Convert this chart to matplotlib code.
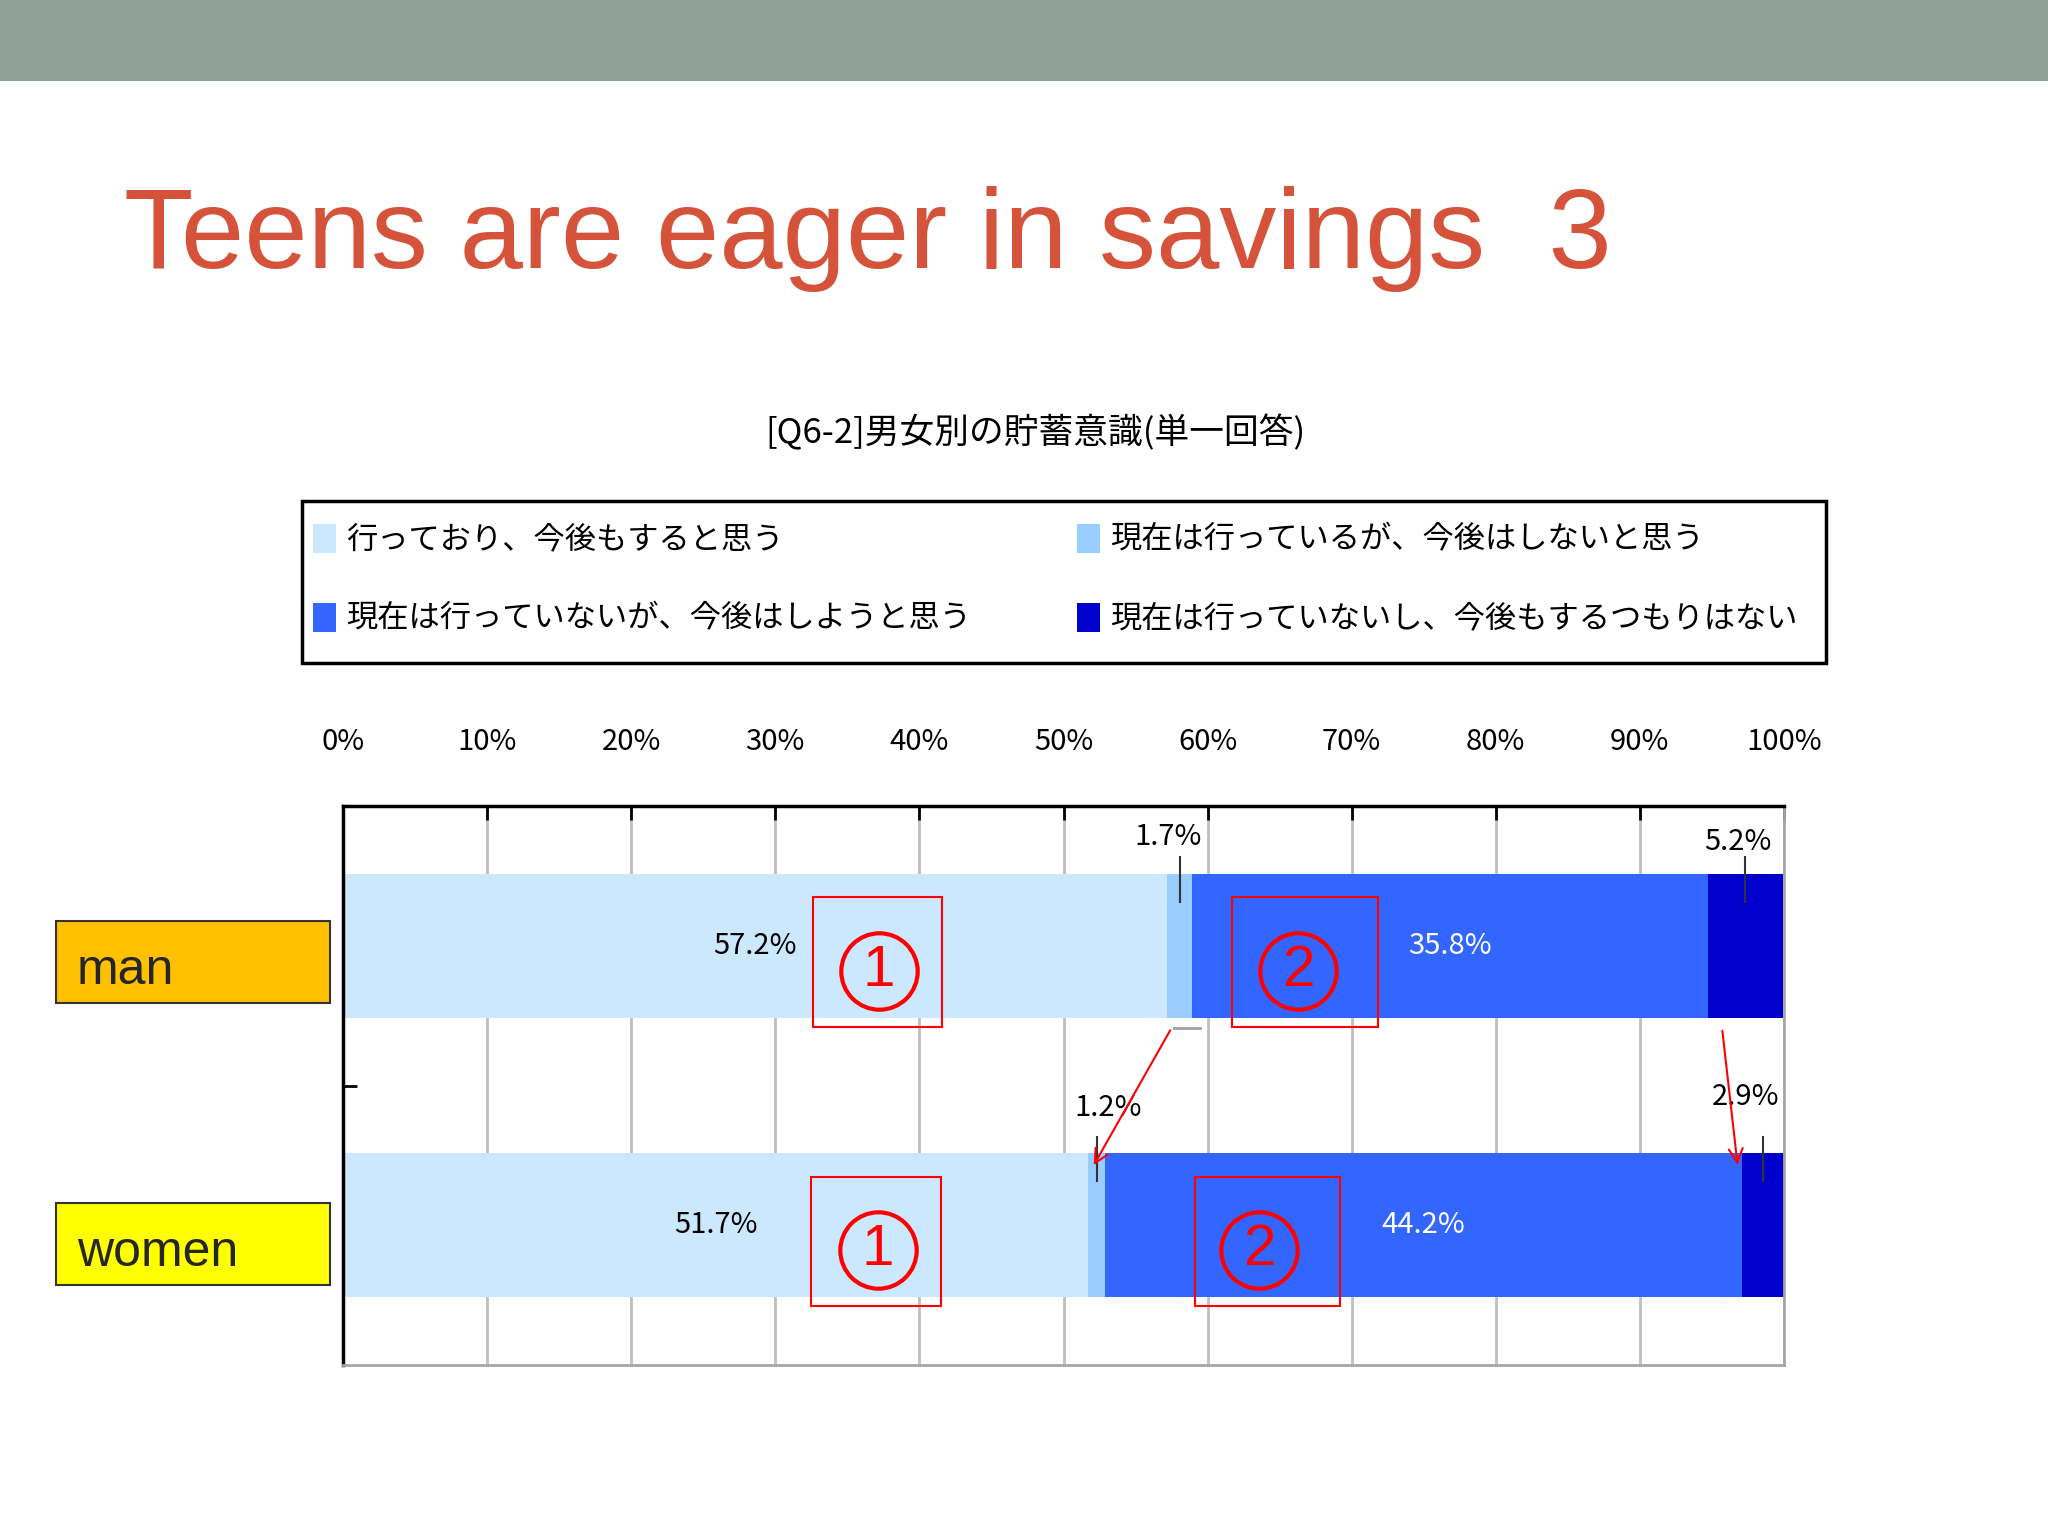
import matplotlib
matplotlib.use("Agg")
import matplotlib.pyplot as plt
from matplotlib.patches import Rectangle
import numpy as np

plt.rcParams['font.family'] = ['Noto Sans CJK JP', 'DejaVu Sans']

# data
groups = ['man', 'women']
series_labels = ['行っており、今後もすると思う',
                 '現在は行っているが、今後はしないと思う',
                 '現在は行っていないが、今後はしようと思う',
                 '現在は行っていないし、今後もするつもりはない']
man_vals = [57.2, 1.7, 35.8, 5.2]
women_vals = [51.7, 1.2, 44.2, 2.9]
colors = ['#CCE8FF', '#99CCFF', '#3366FF', '#0000CC']
xticks = list(range(0, 101, 10))

fig = plt.figure(figsize=(20.48, 15.36), dpi=100)

# slide decoration
fig.patches.append(Rectangle((0, 1 - 81 / 1536), 1, 81 / 1536, transform=fig.transFigure,
                             facecolor='#90A19A', edgecolor='none'))
fig.text(124 / 2048, 1 - 268 / 1536, 'Teens are eager in savings  3', fontsize=82,
         family='Liberation Sans', color='#D4533A', ha='left', va='baseline')

# chart title
fig.text(0.5057, 0.7180, '[Q6-2]男女別の貯蓄意識(単一回答)', fontsize=25,
         ha='center', va='center', color='black')

# legend (manual)
fig.patches.append(Rectangle((302 / 2048, 1 - 663 / 1536), (1826 - 302) / 2048, (663 - 501) / 1536,
                             transform=fig.transFigure, facecolor='white', edgecolor='black', lw=2.5))
leg_pos = [(313, 539), (1077, 539), (313, 618), (1077, 618)]
for (px, py), lab, c in zip(leg_pos, series_labels, colors):
    fig.patches.append(Rectangle((px / 2048, 1 - (py + 14) / 1536), 23 / 2048, 29 / 1536,
                                 transform=fig.transFigure, facecolor=c, edgecolor='none'))
    fig.text((px + 33) / 2048, 1 - py / 1536, lab, fontsize=22.5, ha='left', va='center')

# main axes
ax = fig.add_axes([343 / 2048, 1 - 1365 / 1536, (1784 - 343) / 2048, (1365 - 806) / 1536])
ypos = [1, 0]
bar_h = 0.515
vals = np.array([man_vals, women_vals])
left = np.zeros(len(groups))
for j, c in enumerate(colors):
    ax.barh(ypos, vals[:, j], left=left, height=bar_h, color=c, edgecolor='none', zorder=2)
    left = left + vals[:, j]

ax.set_xlim(0, 100)
ax.set_ylim(-0.5, 1.5)
ax.xaxis.tick_top()
ax.set_xticks(xticks)
ax.set_xticklabels([f'{v}%' for v in xticks], fontsize=21)
ax.tick_params(axis='x', direction='in', length=10, width=2, pad=35, colors='black')
ax.set_yticks([0.5])
ax.set_yticklabels([''])
ax.tick_params(axis='y', direction='in', length=10, width=2)
ax.grid(axis='x', color='#BFBFBF', lw=2, zorder=0)
ax.set_axisbelow(True)
for s in ['top', 'left']:
    ax.spines[s].set_color('black')
    ax.spines[s].set_linewidth(2.5)
for s in ['bottom', 'right']:
    ax.spines[s].set_color('#A6A6A6')
    ax.spines[s].set_linewidth(2)

# value labels
small_label_dy = [[0, 0.39, 0, 0.37], [0, 0.42, 0, 0.46]]
small_label_dx = [[0, -0.8, 0, -0.5], [0, 0.8, 0, -1.2]]
for i, y in enumerate(ypos):
    cum = np.concatenate([[0], np.cumsum(vals[i])])
    for j in range(len(colors)):
        v = vals[i, j]
        xc = (cum[j] + cum[j + 1]) / 2
        if v >= 10:
            ax.text(xc, y, f'{v:.1f}%', ha='center', va='center', fontsize=21,
                    color='white' if j >= 2 else 'black', zorder=4)
        else:
            top = y + bar_h / 2
            ax.plot([xc, xc], [top + 0.06, top - 0.1], color='#333333', lw=1.5, zorder=4)
            ax.text(xc + small_label_dx[i][j], y + small_label_dy[i][j], f'{v:.1f}%',
                    ha='center', va='center', fontsize=21, color='black', zorder=4)

# red annotation boxes and circled numbers
boxes = [(32.6, 41.6, 1), (61.7, 71.8, 1), (32.5, 41.5, 0), (59.1, 69.2, 0)]
circles = [(37.2, 1, '1'), (66.3, 1, '2'), (37.1, 0, '1'), (63.6, 0, '2')]
for x0, x1, y in boxes:
    ax.add_patch(Rectangle((x0, y - 0.29), x1 - x0, 0.463, facecolor='none',
                           edgecolor='red', lw=1.5, zorder=5))
for x, y, t in circles:
    ax.plot([x], [y - 0.09], 'o', ms=55, mfc='none', mec='red', mew=3, zorder=6)
    ax.text(x, y - 0.09, t, ha='center', va='center', fontsize=42,
            family='Liberation Sans', color='red', zorder=6)

# arrows
ax.plot([57.7, 59.5], [0.706, 0.706], color='#A0A0A0', lw=2, zorder=5)
ax.annotate('', xy=(52.0, 0.206), xytext=(57.5, 0.706),
            arrowprops=dict(arrowstyle='->', color='red', lw=1.5, mutation_scale=25), zorder=6)
ax.annotate('', xy=(96.8, 0.206), xytext=(95.7, 0.706),
            arrowprops=dict(arrowstyle='->', color='red', lw=1.5, mutation_scale=25), zorder=6)

# group labels
for name, fc, y0, y1, base in [('man', '#FFC000', 921, 1003, 984),
                               ('women', '#FFFF00', 1203, 1285, 1266)]:
    fig.patches.append(Rectangle((56 / 2048, 1 - y1 / 1536), (330 - 56) / 2048, (y1 - y0) / 1536,
                                 transform=fig.transFigure, facecolor=fc, edgecolor='#333333', lw=1.5))
    fig.text(77 / 2048, 1 - base / 1536, name, fontsize=36, family='Liberation Sans',
             color='#262626', ha='left', va='baseline')

fig.savefig('out.png', dpi=100)
